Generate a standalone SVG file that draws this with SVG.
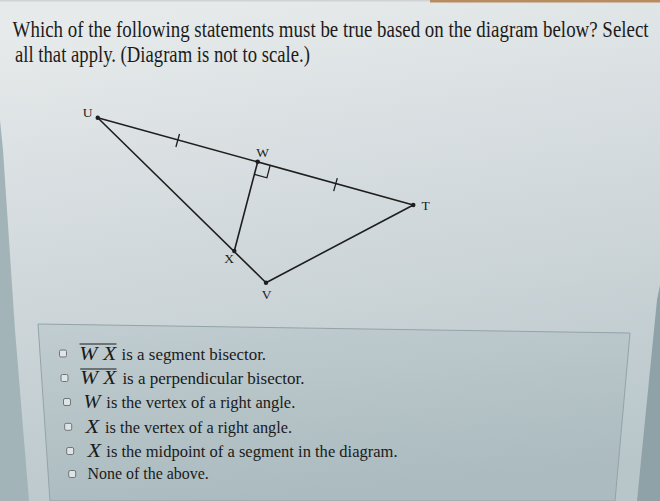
<svg xmlns="http://www.w3.org/2000/svg" width="660" height="501" viewBox="0 0 660 501">
<defs>
<linearGradient id="page" x1="0.35" y1="0" x2="0.55" y2="1">
<stop offset="0" stop-color="#e6eaeb"/>
<stop offset="0.45" stop-color="#d2d9dc"/>
<stop offset="1" stop-color="#b8c6ca"/>
</linearGradient>
<linearGradient id="box" x1="0" y1="0" x2="0.3" y2="1">
<stop offset="0" stop-color="#c1cdd0"/>
<stop offset="1" stop-color="#abbbbf"/>
</linearGradient>
<style>
.title{font-family:"Liberation Serif","Times New Roman",serif;font-size:23px;fill:#1b1b1b}
.opt{font-family:"Liberation Serif","Times New Roman",serif;font-size:17px;fill:#1a1a1a}
.math{font-family:"Liberation Serif","Times New Roman",serif;font-size:18.5px;font-style:italic;fill:#1a1a1a}
.lbl{font-family:"Liberation Serif","Times New Roman",serif;font-size:13.5px;fill:#1c1c1c;text-anchor:middle}
.seg{stroke:#1e1e1e;stroke-width:1.6;fill:none;stroke-linecap:round}
.tick{stroke:#1e1e1e;stroke-width:1.3;fill:none}
.pt{fill:#1e1e1e}
.cb{fill:#dfe5e6;stroke:#6d7578;stroke-width:1}
.ovl{stroke:#1c1c1c;stroke-width:1}
</style>
</defs>
<rect x="0" y="0" width="660" height="501" fill="url(#page)"/>
<polygon points="0,120 3,150 15,330 29,501 0,501" fill="#a3b4b8"/>
<polygon points="660,285 657,300 637,501 660,501" fill="#8ea2a7"/>
<rect x="430" y="0" width="230" height="2.5" fill="#b88c60"/>
<rect x="0" y="0" width="430" height="1.5" fill="#cfd3d4"/>

<g id="question">
<text class="title" transform="matrix(0.76 0 0 1 12.6 36.5)" x="0" y="0" textLength="836.8" lengthAdjust="spacingAndGlyphs">Which of the following statements must be true based on the diagram below? Select</text>
<text class="title" transform="matrix(0.76 0 0 1 15 61.7)" x="0" y="0" textLength="388" lengthAdjust="spacingAndGlyphs">all that apply. (Diagram is not to scale.)</text>
</g>

<g id="connectors">
<line class="seg" x1="97.7" y1="117.7" x2="413.3" y2="205"/>
<line class="seg" x1="97.7" y1="117.7" x2="266" y2="282.7"/>
<line class="seg" x1="266" y1="282.7" x2="413.3" y2="205"/>
<line class="seg" x1="257.7" y1="161.7" x2="234.3" y2="251"/>
<line class="tick" x1="179.5" y1="134" x2="175.9" y2="147"/>
<line class="tick" x1="337.3" y1="178.2" x2="333.7" y2="191.2"/>
<polyline class="tick" points="270.2,165.2 266.9,177.8 254.4,174.3"/>
</g>

<g id="node-U"><circle class="pt" cx="97.7" cy="117.7" r="2.2"/><text class="lbl" x="87.5" y="116.8">U</text></g>
<g id="node-W"><circle class="pt" cx="257.7" cy="161.7" r="2.2"/><text class="lbl" x="262.5" y="156.8">W</text></g>
<g id="node-T"><circle class="pt" cx="413.3" cy="205" r="2.2"/><text class="lbl" x="425.5" y="209.5">T</text></g>
<g id="node-X"><circle class="pt" cx="234.3" cy="251" r="2.2"/><text class="lbl" x="229" y="263">X</text></g>
<g id="node-V"><circle class="pt" cx="266" cy="282.7" r="2.2"/><text class="lbl" x="266.5" y="298.5">V</text></g>

<g id="answers">
<polygon points="38,324 630,333 615,501 50,501" fill="url(#box)" stroke="#93a3a7" stroke-width="1"/>
<g id="opt1">
<rect class="cb" x="59.5" y="350" width="7" height="7" rx="1.5"/>
<line class="ovl" x1="79.5" y1="344" x2="116.5" y2="344"/>
<text class="math" x="79.3" y="359.5" textLength="37" lengthAdjust="spacingAndGlyphs">W X</text>
<text class="opt" x="121.6" y="359.5" textLength="144.5" lengthAdjust="spacingAndGlyphs">is a segment bisector.</text>
</g>
<g id="opt2">
<rect class="cb" x="61" y="374.5" width="7" height="7" rx="1.5"/>
<line class="ovl" x1="80.2" y1="369" x2="116.5" y2="369"/>
<text class="math" x="80.2" y="384" textLength="36.2" lengthAdjust="spacingAndGlyphs">W X</text>
<text class="opt" x="122.4" y="384" textLength="182" lengthAdjust="spacingAndGlyphs">is a perpendicular bisector.</text>
</g>
<g id="opt3">
<rect class="cb" x="63.5" y="398.5" width="7" height="7" rx="1.5"/>
<text class="math" x="83.4" y="408.3" textLength="17" lengthAdjust="spacingAndGlyphs">W</text>
<text class="opt" x="106.3" y="408.3" textLength="189" lengthAdjust="spacingAndGlyphs">is the vertex of a right angle.</text>
</g>
<g id="opt4">
<rect class="cb" x="64.7" y="423.3" width="7" height="7" rx="1.5"/>
<text class="math" x="85.4" y="432.7" textLength="13.7" lengthAdjust="spacingAndGlyphs">X</text>
<text class="opt" x="105.1" y="432.7" textLength="187" lengthAdjust="spacingAndGlyphs">is the vertex of a right angle.</text>
</g>
<g id="opt5">
<rect class="cb" x="66.7" y="447.5" width="7" height="7" rx="1.5"/>
<text class="math" x="87.5" y="456.7" textLength="13.6" lengthAdjust="spacingAndGlyphs">X</text>
<text class="opt" x="106.3" y="456.7" textLength="291.3" lengthAdjust="spacingAndGlyphs">is the midpoint of a segment in the diagram.</text>
</g>
<g id="opt6">
<rect class="cb" x="68.7" y="470.5" width="7" height="7" rx="1.5"/>
<text class="opt" x="87.5" y="479.3" textLength="121.3" lengthAdjust="spacingAndGlyphs">None of the above.</text>
</g>
</g>
</svg>
